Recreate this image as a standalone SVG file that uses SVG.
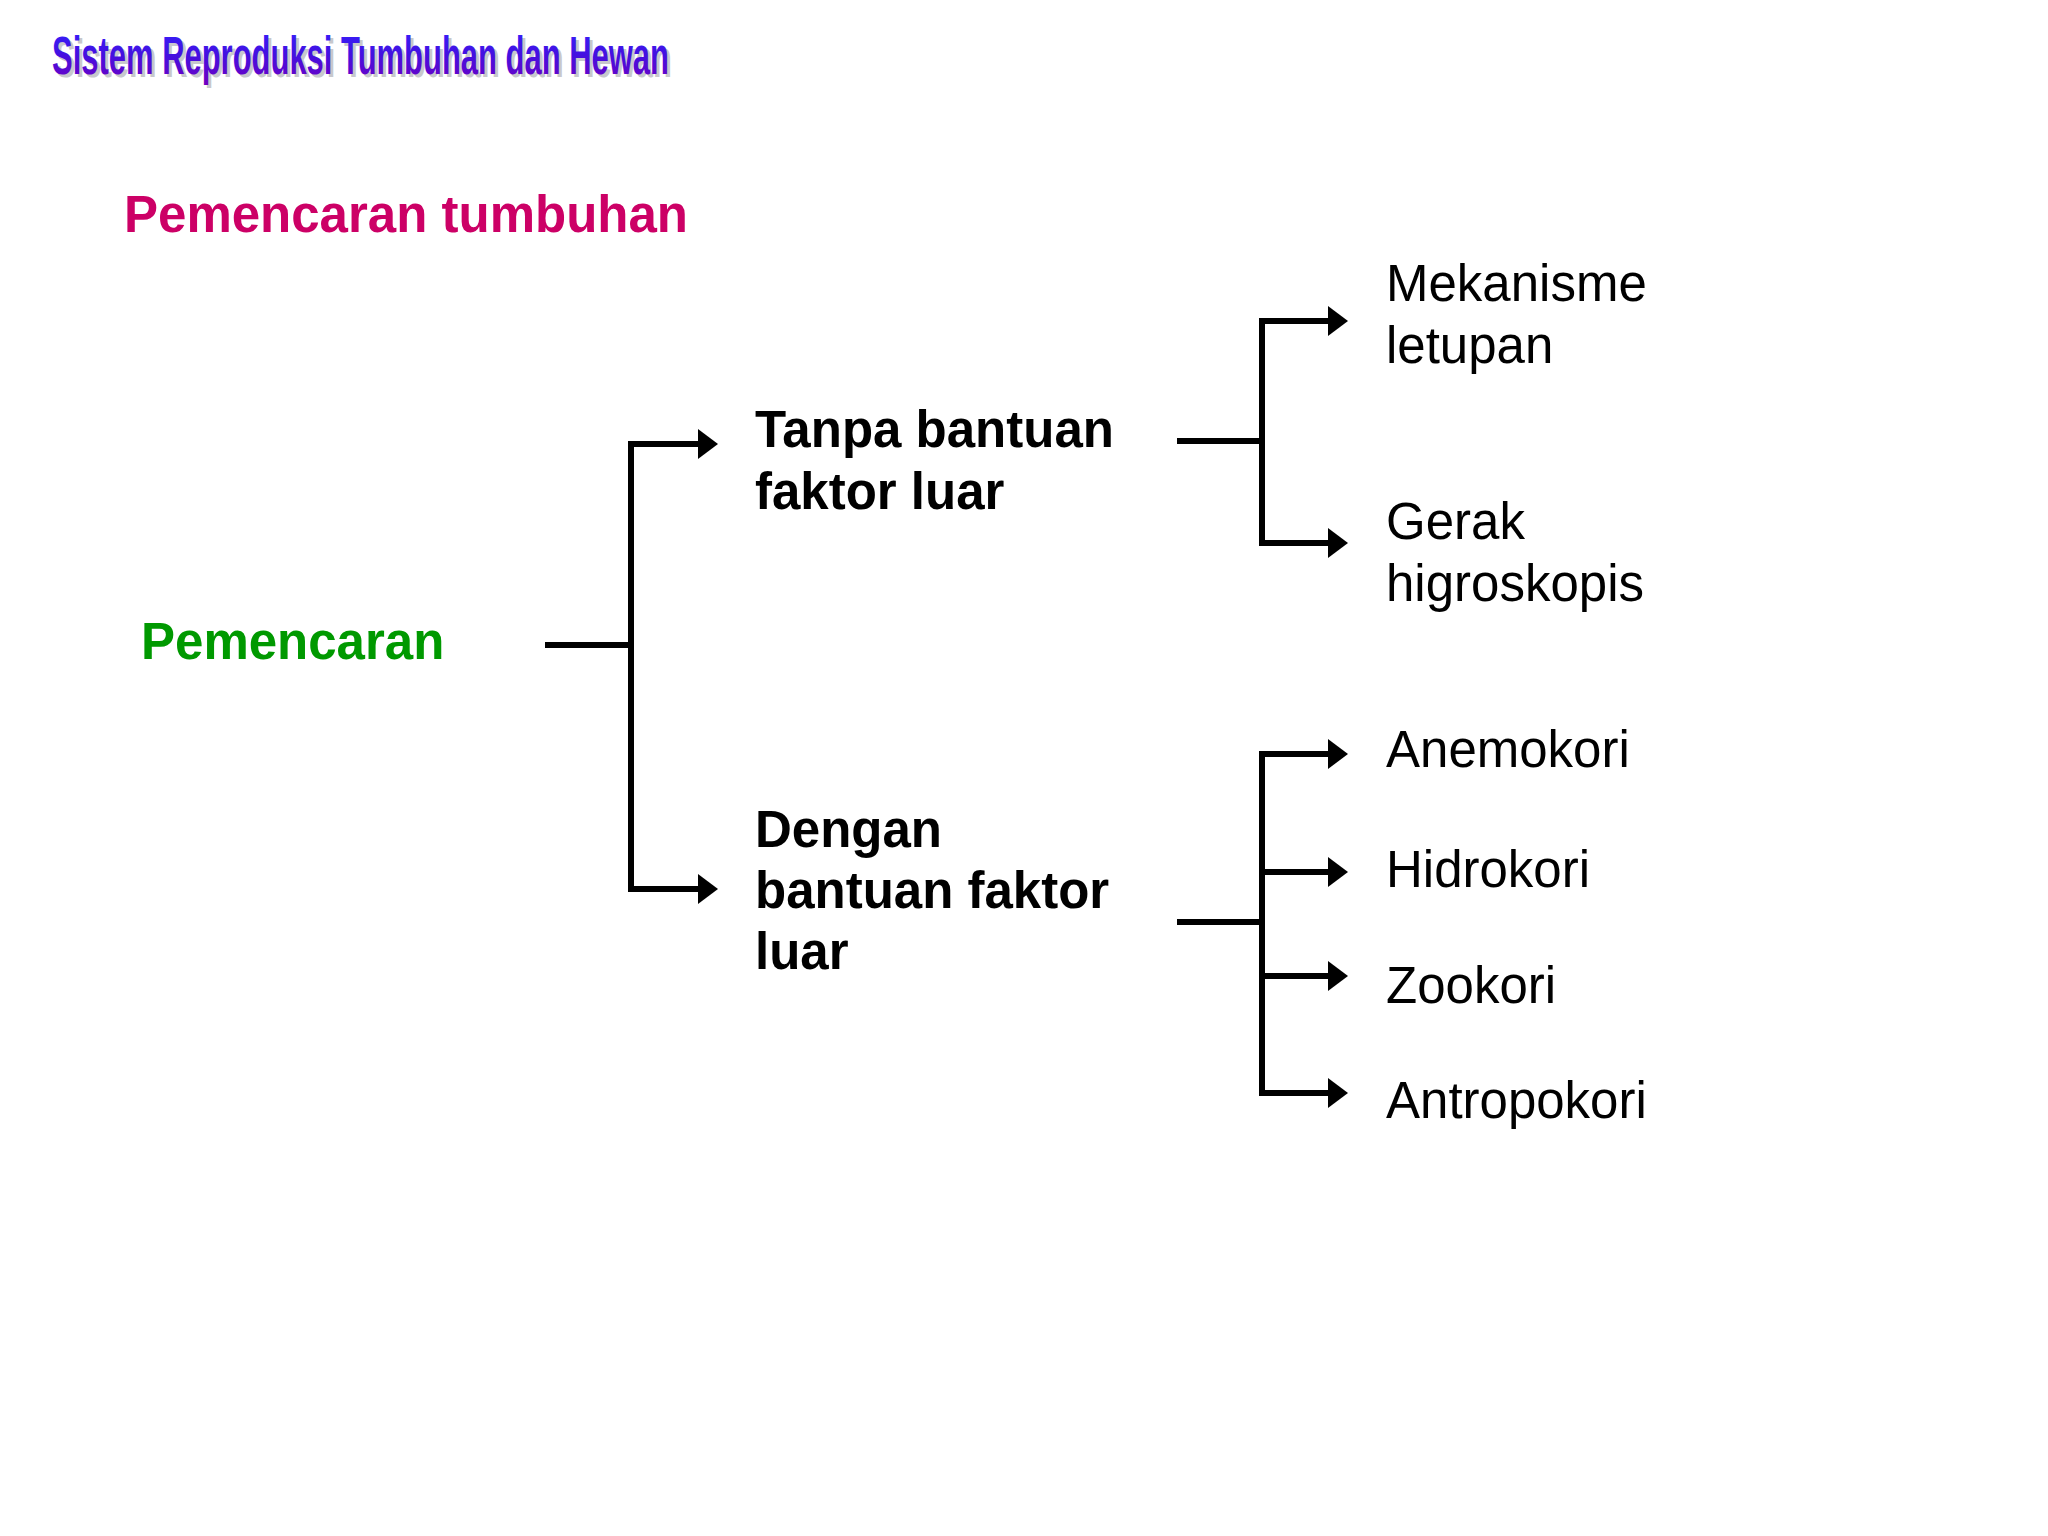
<svg xmlns="http://www.w3.org/2000/svg" width="2048" height="1536" viewBox="0 0 2048 1536">
  <defs>
    <linearGradient id="titleGrad" x1="0" y1="0" x2="0" y2="1">
      <stop offset="0" stop-color="#3322ff"/>
      <stop offset="0.5" stop-color="#4410e0"/>
      <stop offset="1" stop-color="#7000c0"/>
    </linearGradient>
    <marker id="arrow" markerUnits="userSpaceOnUse" viewBox="0 0 20 30" markerWidth="20" markerHeight="30" refX="0" refY="15" orient="auto">
      <path d="M0,0 L20,15 L0,30 z" fill="#000"/>
    </marker>
  </defs>
  <style>
    .lbl { font-family: "Liberation Sans", Arial, sans-serif; font-size: 51px; fill: #000; }
    .bold { font-weight: bold; }
    .ttl { font-family: "Liberation Sans", Arial, sans-serif; font-size: 54px; font-weight: bold; }
    .conn { fill: none; stroke: #000; stroke-width: 6; stroke-linecap: square; }
    .arr { fill: none; stroke: #000; stroke-width: 6; stroke-linecap: butt; }
  </style>
  <rect width="2048" height="1536" fill="#ffffff"/>

  <g id="title">
    <text class="ttl" x="55" y="77" textLength="617" lengthAdjust="spacingAndGlyphs" fill="#c8c8cc">Sistem Reproduksi Tumbuhan dan Hewan</text>
    <text class="ttl" x="52" y="74" textLength="617" lengthAdjust="spacingAndGlyphs" fill="url(#titleGrad)">Sistem Reproduksi Tumbuhan dan Hewan</text>
  </g>

  <g id="heading">
    <text class="lbl bold" x="124" y="232" style="fill:#cc0066">Pemencaran tumbuhan</text>
  </g>

  <g id="node-pemencaran">
    <text class="lbl bold" x="141" y="659" style="fill:#009900">Pemencaran</text>
  </g>

  <g id="node-tanpa">
    <text class="lbl bold" x="755" y="447">Tanpa bantuan</text>
    <text class="lbl bold" x="755" y="509">faktor luar</text>
  </g>

  <g id="node-dengan">
    <text class="lbl bold" x="755" y="847">Dengan</text>
    <text class="lbl bold" x="755" y="908">bantuan faktor</text>
    <text class="lbl bold" x="755" y="969">luar</text>
  </g>

  <g id="node-mekanisme">
    <text class="lbl" x="1386" y="301">Mekanisme</text>
    <text class="lbl" x="1386" y="363">letupan</text>
  </g>
  <g id="node-gerak">
    <text class="lbl" x="1386" y="539">Gerak</text>
    <text class="lbl" x="1386" y="601">higroskopis</text>
  </g>
  <g id="node-anemokori">
    <text class="lbl" x="1386" y="767">Anemokori</text>
  </g>
  <g id="node-hidrokori">
    <text class="lbl" x="1386" y="887">Hidrokori</text>
  </g>
  <g id="node-zookori">
    <text class="lbl" x="1386" y="1003">Zookori</text>
  </g>
  <g id="node-antropokori">
    <text class="lbl" x="1386" y="1118">Antropokori</text>
  </g>

  <g id="connectors">
    <!-- Pemencaran bracket -->
    <path class="conn" d="M548,645 H631"/>
    <path class="conn" d="M631,444 V889"/>
    <path class="arr" d="M631,444 H698" marker-end="url(#arrow)"/>
    <path class="arr" d="M631,889 H698" marker-end="url(#arrow)"/>

    <!-- Tanpa bantuan bracket -->
    <path class="conn" d="M1180,441 H1262"/>
    <path class="conn" d="M1262,321 V543"/>
    <path class="arr" d="M1262,321 H1328" marker-end="url(#arrow)"/>
    <path class="arr" d="M1262,543 H1328" marker-end="url(#arrow)"/>

    <!-- Dengan bantuan bracket -->
    <path class="conn" d="M1180,922 H1262"/>
    <path class="conn" d="M1262,754 V1093"/>
    <path class="arr" d="M1262,754 H1328" marker-end="url(#arrow)"/>
    <path class="arr" d="M1262,872 H1328" marker-end="url(#arrow)"/>
    <path class="arr" d="M1262,976 H1328" marker-end="url(#arrow)"/>
    <path class="arr" d="M1262,1093 H1328" marker-end="url(#arrow)"/>
  </g>
</svg>
